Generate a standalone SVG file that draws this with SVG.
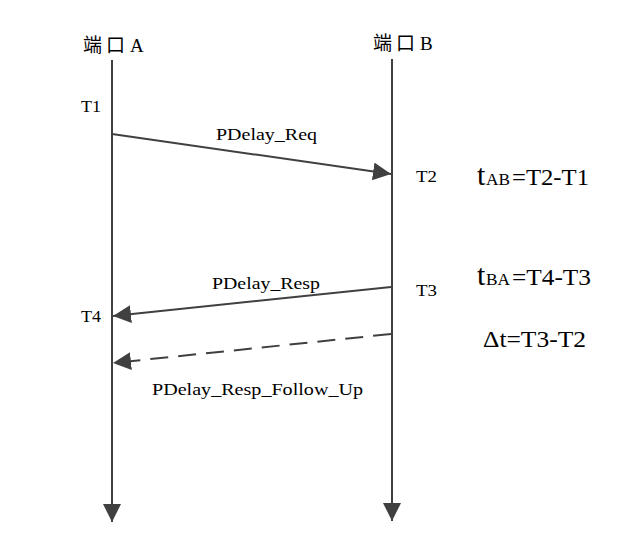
<svg xmlns="http://www.w3.org/2000/svg" width="641" height="560" viewBox="0 0 641 560">
<style>
text{font-family:"Liberation Serif","Noto Sans CJK SC",serif;fill:#000}
.lbl{font-size:17px}
.tl{font-size:17px}
.hd{font-size:19px}
.f{font-size:23px}
.big{font-size:30px}
.sub{font-size:16.6px}
.ln{stroke:#404040;stroke-width:2;fill:none}
</style>
<defs>
<marker id="ah2" viewBox="0 0 10 10" refX="10" refY="5" markerWidth="9" markerHeight="9" orient="auto">
<path d="M0,0 L10,5 L0,10 z" fill="#404040"/>
</marker>
</defs>
<g id="portA">
<text class="hd" x="83 106 130" y="52">端口A</text>
<text class="tl" x="81" y="112" textLength="20" lengthAdjust="spacingAndGlyphs">T1</text>
<text class="tl" x="81" y="322" textLength="20" lengthAdjust="spacingAndGlyphs">T4</text>
</g>
<g id="portB">
<text class="hd" x="373 396 420" y="50">端口B</text>
<text class="tl" x="416" y="182" textLength="21" lengthAdjust="spacingAndGlyphs">T2</text>
<text class="tl" x="416" y="296" textLength="21" lengthAdjust="spacingAndGlyphs">T3</text>
</g>
<g id="connectors">
<line class="ln" x1="112" y1="60" x2="112" y2="522" marker-end="url(#ah2)"/>
<line class="ln" x1="392" y1="59" x2="392" y2="521" marker-end="url(#ah2)"/>
<line class="ln" x1="112" y1="134" x2="391" y2="174" marker-end="url(#ah2)"/>
<line class="ln" x1="391" y1="287" x2="113" y2="316" marker-end="url(#ah2)"/>
<line class="ln" x1="391" y1="334" x2="113" y2="363" stroke-dasharray="18,10" marker-end="url(#ah2)"/>
</g>
<g id="labels">
<text class="lbl" x="216" y="140" textLength="101" lengthAdjust="spacingAndGlyphs">PDelay_Req</text>
<text class="lbl" x="212" y="289" textLength="108" lengthAdjust="spacingAndGlyphs">PDelay_Resp</text>
<text class="lbl" x="152" y="395" textLength="211" lengthAdjust="spacingAndGlyphs">PDelay_Resp_Follow_Up</text>
</g>
<g id="formulas">
<text class="big" x="477" y="185">t</text>
<text class="sub" x="486" y="185" textLength="24" lengthAdjust="spacingAndGlyphs">AB</text>
<text class="f" x="512" y="185" textLength="77" lengthAdjust="spacingAndGlyphs">=T2-T1</text>
<text class="big" x="477" y="285">t</text>
<text class="sub" x="486" y="285" textLength="24" lengthAdjust="spacingAndGlyphs">BA</text>
<text class="f" x="512" y="285" textLength="79" lengthAdjust="spacingAndGlyphs">=T4-T3</text>
<text class="f" x="483" y="347" textLength="103" lengthAdjust="spacingAndGlyphs">Δt=T3-T2</text>
</g>
</svg>
